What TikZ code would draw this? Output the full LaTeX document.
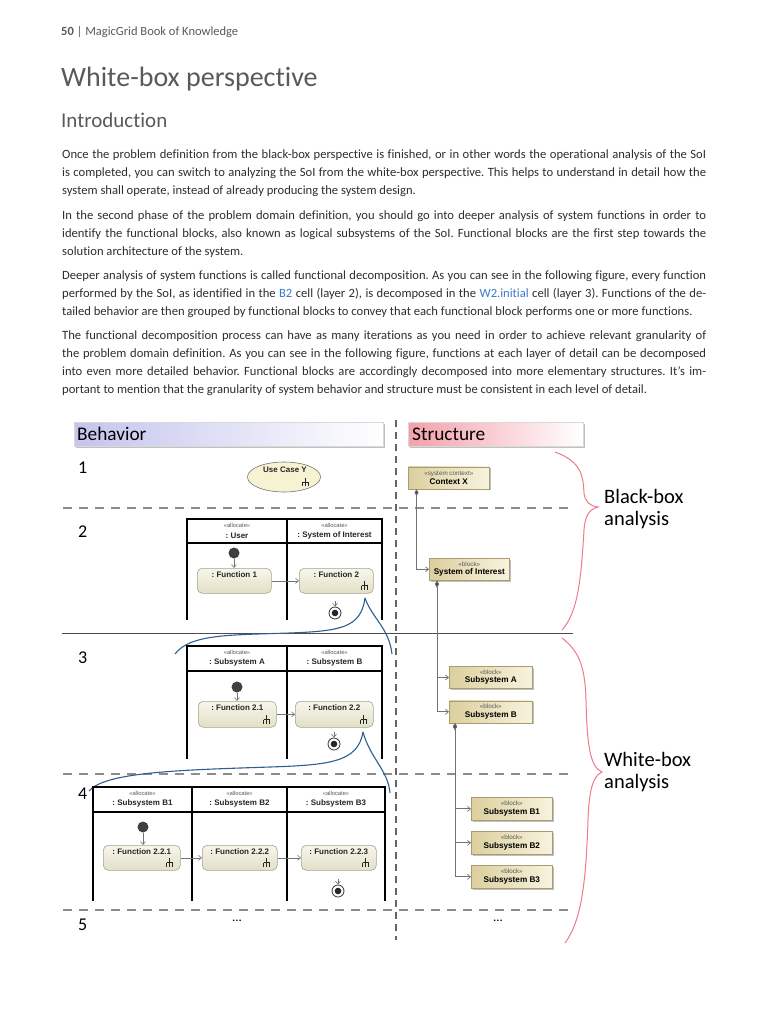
\documentclass[tikz,border=0pt]{standalone}
\usepackage{fontspec}
\setmainfont{Carlito}[Ligatures=NoCommon]
\newfontfamily\umlfont{Liberation Sans}
\usetikzlibrary{arrows.meta,shadows,calc,shapes.geometric}
\definecolor{bodytext}{HTML}{2E2E2E}
\definecolor{headgray}{HTML}{5A5A5A}
\definecolor{linkblue}{HTML}{3A7BC8}
\definecolor{lav}{HTML}{C4C4EE}
\definecolor{pinkc}{HTML}{F4A0AA}
\definecolor{blkL}{HTML}{DCCF9E}
\definecolor{blkR}{HTML}{F8F3DE}
\definecolor{blkB}{HTML}{A89C70}
\definecolor{fnL}{HTML}{E2E0C6}
\definecolor{fnR}{HTML}{F7F6EC}
\definecolor{fnB}{HTML}{A4A48C}
\definecolor{bluec}{HTML}{2F5F8F}
\definecolor{redc}{HTML}{F07A88}
\definecolor{ucfill}{HTML}{F7F3D2}
\newcommand\jl[1]{\makebox[644pt][s]{#1}}
\newcommand\stereo[1]{{\fontsize{6.3}{7}\selectfont\color{black!65}#1}}
\begin{document}
\frenchspacing
\begin{tikzpicture}[x=1pt,y=-1pt,
  txt/.style={anchor=base west,inner sep=0,text=bodytext,font=\fontsize{12.6}{14}\selectfont\frenchspacing},
  rownum/.style={anchor=base west,inner sep=0,text=black,font=\fontsize{18}{19}\selectfont},
  bigtxt/.style={anchor=base west,inner sep=0,text=black,font=\fontsize{20.5}{22}\selectfont},
  bar/.style={anchor=north west,draw=black!15,line width=0.5,inner sep=0,
     drop shadow={shadow xshift=1.5pt,shadow yshift=-1.5pt,fill=black!40,opacity=0.6}},
  divh/.style={draw=black!45,line width=1.1,dash pattern=on 9pt off 7pt},
  divv/.style={draw=black!60,line width=1.1,dash pattern=on 7pt off 5pt},
  lane/.style={draw=black,line width=1.4},
  hdsmall/.style={inner sep=0,text=black!65,font=\umlfont\fontsize{5.8}{6.5}\selectfont},
  hdname/.style={inner sep=0,text=black!85,font=\umlfont\bfseries\fontsize{8}{9}\selectfont},
  fn/.style={draw=fnB,line width=0.6,rounded corners=5pt,top color=fnR,bottom color=fnL,
     inner sep=0,anchor=north west},
  fnlab/.style={anchor=north,inner sep=0,text=black!85,font=\umlfont\bfseries\fontsize{8}{9}\selectfont},
  init/.style={circle,fill=black!75,minimum size=11,inner sep=0},
  final/.style={circle,draw=black!80,line width=0.8,fill=white,minimum size=12,inner sep=0,
     path picture={\fill[black!85] (path picture bounding box.center) circle (3.3);}},
  flow/.style={draw=black!55,line width=0.6,-{Straight Barb[length=3pt,width=5pt]}},
  blk/.style={draw=blkB,line width=0.6,left color=blkL,right color=blkR,inner sep=0,anchor=north west,
     align=center,font=\umlfont\fontsize{8.2}{8.5}\selectfont,
     drop shadow={shadow xshift=1.5pt,shadow yshift=-1.5pt,fill=black!35,opacity=0.7}},
  comp/.style={draw=black!55,line width=0.7,{Diamond[length=7pt,width=4pt,fill=black!70]}-{Straight Barb[length=3pt,width=5pt]}},
  decomp/.style={draw=bluec,line width=1.1},
  brace/.style={draw=redc,line width=1},
  fork/.pic={\draw[black!85,line width=0.7] (0,-4.5)--(0,4) (-3,0)--(3,0) (-3,0)--(-3,4) (3,0)--(3,4);}
]
\useasboundingbox[fill=white] (0,0) rectangle (768,1024);

% ---------- page header ----------
\node[anchor=base west,inner sep=0,text=headgray,font=\fontsize{12.5}{14}\selectfont] (pagehdr) at (61,36) {\textbf{50} | MagicGrid Book of Knowledge};
\node[anchor=base west,inner sep=0,text=headgray,font=\fontsize{28}{30}\selectfont] (title) at (61,87) {White-box perspective};
\node[anchor=base west,inner sep=0,text=headgray,font=\fontsize{21}{23}\selectfont] (intro) at (61,128) {Introduction};

% ---------- body text ----------
\node[txt] (l1) at (62,159) {\jl{Once the problem definition from the black-box perspective is finished, or in other words the operational analysis of the SoI}};
\node[txt] (l2) at (62,177) {\jl{is completed, you can switch to analyzing the SoI from the white-box perspective. This helps to understand in detail how the}};
\node[txt] (l3) at (62,195) {system shall operate, instead of already producing the system design.};
\node[txt] (l4) at (62,219) {\jl{In the second phase of the problem domain definition, you should go into deeper analysis of system functions in order to}};
\node[txt] (l5) at (62,237) {\jl{identify the functional blocks, also known as logical subsystems of the SoI. Functional blocks are the first step towards the}};
\node[txt] (l6) at (62,255) {solution architecture of the system.};
\node[txt] (l7) at (62,279) {\jl{Deeper analysis of system functions is called functional decomposition. As you can see in the following figure, every function}};
\node[txt] (l8) at (62,297) {\jl{performed by the SoI, as identified in the \textcolor{linkblue}{B2} cell (layer 2), is decomposed in the \textcolor{linkblue}{W2.initial} cell (layer 3). Functions of the de-}};
\node[txt] (l9) at (62,315) {tailed behavior are then grouped by functional blocks to convey that each functional block performs one or more functions.};
\node[txt] (l10) at (62,339) {\jl{The functional decomposition process can have as many iterations as you need in order to achieve relevant granularity of}};
\node[txt] (l11) at (62,357) {\jl{the problem domain definition. As you can see in the following figure, functions at each layer of detail can be decomposed}};
\node[txt] (l12) at (62,375) {\jl{into even more detailed behavior. Functional blocks are accordingly decomposed into more elementary structures. It’s im-}};
\node[txt] (l13) at (62,393) {portant to mention that the granularity of system behavior and structure must be consistent in each level of detail.};

% ---------- column headers ----------
\node[bar,left color=lav,right color=white,minimum width=309,minimum height=24] (bbar) at (74,422) {};
\node[anchor=base west,inner sep=0,font=\fontsize{19.3}{20}\selectfont] (btxt) at (77,440.5) {Behavior};
\node[bar,left color=pinkc,right color=white,minimum width=175,minimum height=24] (sbar) at (408,422) {};
\node[anchor=base west,inner sep=0,font=\fontsize{19.3}{20}\selectfont] (stxt) at (412,440.5) {Structure};

% ---------- grid lines ----------
\coordinate (vtop) at (396,420); \coordinate (vbot) at (396,940);
\draw[divv] (vtop) -- (vbot);
\coordinate (h1a) at (63,508); \coordinate (h1b) at (571,508);
\coordinate (h2a) at (62,633); \coordinate (h2b) at (573,633);
\coordinate (h3a) at (63,774); \coordinate (h3b) at (568,774);
\coordinate (h4a) at (63,910); \coordinate (h4b) at (568,910);
\draw[divh] (h1a) -- (h1b);
\draw[draw=black!70,line width=1] (h2a) -- (h2b);
\draw[divh] (h3a) -- (h3b);
\draw[divh] (h4a) -- (h4b);

% ---------- row numbers ----------
\node[rownum] (r1) at (78,473) {1};
\node[rownum] (r2) at (78,537) {2};
\node[rownum] (r3) at (78,663) {3};
\node[rownum] (r4) at (78,799) {4};
\node[rownum] (r5) at (78,930) {5};

% ---------- layer 1: use case ----------
\node[ellipse,draw=black!55,line width=0.6,fill=ucfill,minimum width=73,minimum height=30,inner sep=0] (uc) at (284,477) {};
\node[hdname] (uctxt) at (285,469.5) {Use Case Y};
\pic at (305,482) {fork};

% ---------- layer 2: swimlane ----------
\coordinate (s2tl) at (187,519); \coordinate (s2tr) at (382,519);
\coordinate (s2bl) at (187,620); \coordinate (s2br) at (382,620);
\coordinate (s2hl) at (187,543); \coordinate (s2hr) at (382,543);
\coordinate (s2dt) at (287,519); \coordinate (s2db) at (287,620);
\draw[lane] (s2bl) -- (s2tl) -- (s2tr) -- (s2br);
\draw[lane] (s2hl) -- (s2hr);
\draw[lane] (s2dt) -- (s2db);
\node[hdsmall] (a21) at (237,525) {«allocate»};
\node[hdname] (n21) at (237,535.5) {: User};
\node[hdsmall] (a22) at (334.5,525) {«allocate»};
\node[hdname] (n22) at (334.5,535.5) {: System of Interest};
\node[init] (i2) at (234,553) {};
\node[fn,minimum width=74,minimum height=25] (f1) at (197,568) {};
\node[fnlab] (f1t) at ($(f1.north)+(0,3)$) {: Function 1};
\node[fn,minimum width=74,minimum height=25] (f2) at (299,568) {};
\node[fnlab] (f2t) at ($(f2.north)+(0,3)$) {: Function 2};
\pic at ($(f2.south east)+(-9,-8)$) {fork};
\node[final] (e2) at (335,613) {};
\coordinate (e2in) at (335,601);
\draw[flow] (i2) -- (i2 |- f1.north);
\draw[flow] (f1) -- (f2);
\draw[flow] (e2in) -- (e2);

% decomposition callout 2 -> 3
\coordinate (d2o) at (365,598);
\coordinate (d2l) at (175,654);
\coordinate (d2r) at (392,654);
\draw[decomp] (d2o) .. controls (361,628) and (340,631) .. (290,633) .. controls (230,635) and (190,634) .. (d2l);
\draw[decomp] (d2o) .. controls (372,618) and (389,628) .. (d2r);

% ---------- layer 3: swimlane ----------
\coordinate (s3tl) at (187,646); \coordinate (s3tr) at (382,646);
\coordinate (s3bl) at (187,759); \coordinate (s3br) at (382,759);
\coordinate (s3hl) at (187,671); \coordinate (s3hr) at (382,671);
\coordinate (s3dt) at (287,646); \coordinate (s3db) at (287,759);
\draw[lane] (s3bl) -- (s3tl) -- (s3tr) -- (s3br);
\draw[lane] (s3hl) -- (s3hr);
\draw[lane] (s3dt) -- (s3db);
\node[hdsmall] (a31) at (237,652) {«allocate»};
\node[hdname] (n31) at (237,662.5) {: Subsystem A};
\node[hdsmall] (a32) at (334.5,652) {«allocate»};
\node[hdname] (n32) at (334.5,662.5) {: Subsystem B};
\node[init] (i3) at (237,687) {};
\node[fn,minimum width=78,minimum height=26] (f21) at (198,701) {};
\node[fnlab] (f21t) at ($(f21.north)+(0,3)$) {: Function 2.1};
\pic at ($(f21.south east)+(-10,-8)$) {fork};
\node[fn,minimum width=78,minimum height=26] (f22) at (295,701) {};
\node[fnlab] (f22t) at ($(f22.north)+(0,3)$) {: Function 2.2};
\pic at ($(f22.south east)+(-10,-8)$) {fork};
\node[final] (e3) at (334,744) {};
\coordinate (e3in) at (334,732);
\draw[flow] (i3) -- (i3 |- f21.north);
\draw[flow] (f21) -- (f22);
\draw[flow] (e3in) -- (e3);

% decomposition callout 3 -> 4
\coordinate (d3o) at (363,732);
\coordinate (d3l) at (89,791);
\coordinate (d3r) at (390,793);
\draw[decomp] (d3o) .. controls (358,762) and (330,765) .. (270,767) .. controls (180,770) and (105,772) .. (d3l);
\draw[decomp] (d3o) .. controls (370,758) and (388,770) .. (d3r);

% ---------- layer 4: swimlane ----------
\coordinate (s4tl) at (93,787); \coordinate (s4tr) at (385,787);
\coordinate (s4bl) at (93,901); \coordinate (s4br) at (385,901);
\coordinate (s4hl) at (93,812); \coordinate (s4hr) at (385,812);
\coordinate (s4d1t) at (192,787); \coordinate (s4d1b) at (192,901);
\coordinate (s4d2t) at (287,787); \coordinate (s4d2b) at (287,901);
\draw[lane] (s4bl) -- (s4tl) -- (s4tr) -- (s4br);
\draw[lane] (s4hl) -- (s4hr);
\draw[lane] (s4d1t) -- (s4d1b);
\draw[lane] (s4d2t) -- (s4d2b);
\node[hdsmall] (a41) at (142.5,793) {«allocate»};
\node[hdname] (n41) at (142.5,803.5) {: Subsystem B1};
\node[hdsmall] (a42) at (239.5,793) {«allocate»};
\node[hdname] (n42) at (239.5,803.5) {: Subsystem B2};
\node[hdsmall] (a43) at (336,793) {«allocate»};
\node[hdname] (n43) at (336,803.5) {: Subsystem B3};
\node[init] (i4) at (143,827) {};
\node[fn,minimum width=77,minimum height=25] (f221) at (103,845) {};
\node[fnlab] (f221t) at ($(f221.north)+(0,3)$) {: Function 2.2.1};
\pic at ($(f221.south east)+(-11,-8)$) {fork};
\node[fn,minimum width=75,minimum height=25] (f222) at (202,845) {};
\node[fnlab] (f222t) at ($(f222.north)+(0,3)$) {: Function 2.2.2};
\pic at ($(f222.south east)+(-11,-8)$) {fork};
\node[fn,minimum width=75,minimum height=25] (f223) at (301,845) {};
\node[fnlab] (f223t) at ($(f223.north)+(0,3)$) {: Function 2.2.3};
\pic at ($(f223.south east)+(-11,-8)$) {fork};
\node[final] (e4) at (338,891) {};
\coordinate (e4in) at (338,879);
\draw[flow] (i4) -- (i4 |- f221.north);
\draw[flow] (f221) -- (f222);
\draw[flow] (f222) -- (f223);
\draw[flow] (e4in) -- (e4);

% ---------- row 5 ----------
\node[inner sep=0,font=\fontsize{13}{13}\selectfont] (dotsL) at (237,921) {...};
\node[inner sep=0,font=\fontsize{13}{13}\selectfont] (dotsR) at (498,921) {...};

% ---------- structure blocks ----------
\node[blk,minimum width=81,minimum height=22] (ctx) at (408,466.5) {\stereo{«system context»}\\\textbf{Context X}};
\node[blk,minimum width=80,minimum height=22] (soi) at (429,558) {\stereo{«block»}\\\textbf{System of Interest}};
\node[blk,minimum width=83,minimum height=22] (suba) at (449,666) {\stereo{«block»}\\\textbf{Subsystem A}};
\node[blk,minimum width=83,minimum height=22] (subb) at (449,700.5) {\stereo{«block»}\\\textbf{Subsystem B}};
\node[blk,minimum width=81,minimum height=23] (b1) at (471,797) {\stereo{«block»}\\\textbf{Subsystem B1}};
\node[blk,minimum width=81,minimum height=23] (b2) at (471,831) {\stereo{«block»}\\\textbf{Subsystem B2}};
\node[blk,minimum width=81,minimum height=23] (b3) at (471,865) {\stereo{«block»}\\\textbf{Subsystem B3}};

\draw[comp] ($(ctx.south west)+(8.5,0)$) |- (soi.west);
\draw[comp] ($(soi.south west)+(8,0)$) |- (suba.west);
\draw[comp] ($(soi.south west)+(8,0)$) |- (subb.west);
\draw[comp] ($(subb.south west)+(6,0)$) |- (b1.west);
\draw[comp] ($(subb.south west)+(6,0)$) |- (b2.west);
\draw[comp] ($(subb.south west)+(6,0)$) |- (b3.west);

% ---------- braces ----------
\coordinate (br1s) at (555,452); \coordinate (br1t) at (598,507); \coordinate (br1e) at (562,630);
\draw[brace] (br1s) .. controls (583,462) and (583,478) .. (584,493) .. controls (585,502) and (590,506) .. (br1t)
  .. controls (590,509) and (585,515) .. (584,530) .. controls (581,580) and (578,612) .. (br1e);
\coordinate (br2s) at (562,638); \coordinate (br2t) at (602,772); \coordinate (br2e) at (565,943);
\draw[brace] (br2s) .. controls (580,652) and (585,668) .. (586,700) .. controls (587,745) and (590,767) .. (br2t)
  .. controls (593,776) and (589,790) .. (588,820) .. controls (586,880) and (582,920) .. (br2e);

\node[bigtxt] (bb1) at (604,503) {Black-box};
\node[bigtxt] (bb2) at (604,525) {analysis};
\node[bigtxt] (wb1) at (604,766) {White-box};
\node[bigtxt] (wb2) at (604,788) {analysis};
\end{tikzpicture}
\end{document}
